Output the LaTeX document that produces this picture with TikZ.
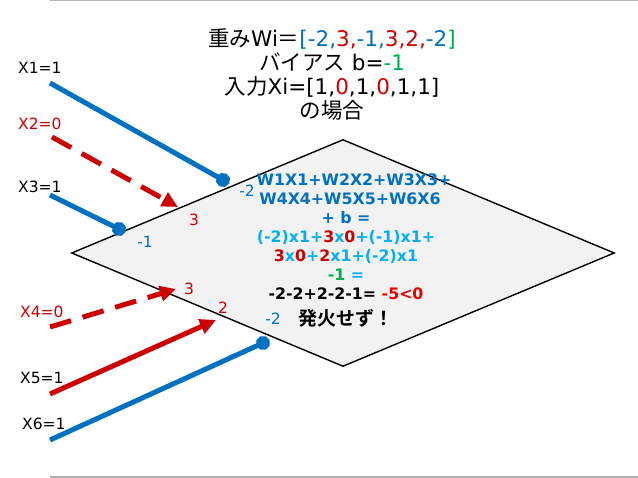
\documentclass[tikz,border=0pt]{standalone}
\usepackage{fontspec}
\setmainfont{DejaVu Sans}
\newfontfamily\jp{Noto Sans CJK JP}[BoldFont={Noto Sans CJK JP Bold}]
\usepackage{xcolor}
\usetikzlibrary{arrows.meta,positioning,shapes.geometric}

\definecolor{wblue}{RGB}{0,112,192}
\definecolor{lblue}{RGB}{0,176,240}
\definecolor{wred}{RGB}{204,0,0}
\definecolor{fred}{RGB}{235,0,0}
\definecolor{bgreen}{RGB}{0,176,80}
\definecolor{dfill}{RGB}{242,242,242}

\begin{document}
\begin{tikzpicture}[
          x=1pt, y=-1pt,
          inlabel/.style={font=\fontsize{15.5}{18}\selectfont, anchor=west, inner sep=0pt},
          wlabel/.style={font=\fontsize{15.5}{18}\selectfont, inner sep=0pt},
          wire/.style={line width=5pt, wblue, -{Circle[length=14pt]}, shorten >=-7pt},
          excite/.style={line width=5pt, wred, -{Triangle[length=16pt,width=15pt]}},
          gapwire/.style={excite, dash pattern=on 22pt off 12pt}
      ]
        \useasboundingbox (0,0) rectangle (638,478);
        \draw[gray!60, line width=1.5pt] (50,0.75) -- (638,0.75);
        \draw[gray!60, line width=1.5pt] (50,477.25) -- (638,477.25);

        \node[font=\fontsize{21.5}{24}\selectfont, align=center, inner sep=0pt] (title) at (332,74)
          {{\jp 重み}Wi{\jp ＝}\textcolor{wblue}{[-2,}\textcolor{wred}{3,}\textcolor{wblue}{-1,}\textcolor{wred}{3,2,}\textcolor{wblue}{-2}\textcolor{bgreen}{]}\\
           {\jp バイアス} b=\textcolor{bgreen}{-1}\\
           {\jp 入力}Xi=[1,\textcolor{wred}{0},1,\textcolor{wred}{0},1,1]\\
           {\jp の場合}};

        \node[diamond, draw, line width=1.4pt, fill=dfill, minimum width=543pt, minimum height=227pt, inner sep=0pt] (neuron) at (343,253) {};

        \node[font=\bfseries\fontsize{15.8}{19}\selectfont, align=center, inner sep=0pt, anchor=north] (sum) at (346,174)
          {\hspace*{16pt}\textcolor{wblue}{W1X1+W2X2+W3X3+}\\
           \hspace*{8pt}\textcolor{wblue}{W4X4+W5X5+W6X6}\\
           \textcolor{wblue}{+ b =}\\
           \textcolor{lblue}{(-2)x1+\textcolor{wred}{3}x\textcolor{wred}{0}+(-1)x1+}\\
           \textcolor{lblue}{\textcolor{wred}{3}x\textcolor{wred}{0}+\textcolor{wred}{2}x1+(-2)x1}\\
           \textcolor{bgreen}{-1} \textcolor{lblue}{=}\\
           -2-2+2-2-1= \textcolor{fred}{-5<0}\\[7pt]
           {\jp\fontsize{19}{22}\selectfont 発火せず！}};

        % inputs
        \node[inlabel] (x1) at (18,68) {X1=1};
        \node[inlabel, wred] (x2) at (18,124) {X2=0};
        \node[inlabel] (x3) at (18,187) {X3=1};
        \node[inlabel, wred] (x4) at (20,312) {X4=0};
        \node[inlabel] (x5) at (20,378) {X5=1};
        \node[inlabel] (x6) at (22,424) {X6=1};

        \coordinate (s1) at (50,83);   \coordinate (e1) at (223,180);
        \coordinate (s2) at (52,137);  \coordinate (e2) at (178,207);
        \coordinate (s3) at (50,195);  \coordinate (e3) at (119,229);
        \coordinate (s4) at (50,327);  \coordinate (e4) at (176,289);
        \coordinate (s5) at (50,394);  \coordinate (e5) at (216,320);
        \coordinate (s6) at (50,440);  \coordinate (e6) at (263,343);

        \draw[wire] (s1) -- (e1);
        \draw[gapwire] (s2) -- (e2);
        \draw[wire] (s3) -- (e3);
        \draw[gapwire] (s4) -- (e4);
        \draw[excite] (s5) -- (e5);
        \draw[wire] (s6) -- (e6);

        % weights
        \node[wlabel, wblue] (w1) at (247,191) {-2};
        \node[wlabel, wred] (w2) at (194,220) {3};
        \node[wlabel, wblue] (w3) at (145,242) {-1};
        \node[wlabel, wred] (w4) at (189,289) {3};
        \node[wlabel, wred] (w5) at (223,308) {2};
        \node[wlabel, wblue] (w6) at (273,319) {-2};
      \end{tikzpicture}
\end{document}
